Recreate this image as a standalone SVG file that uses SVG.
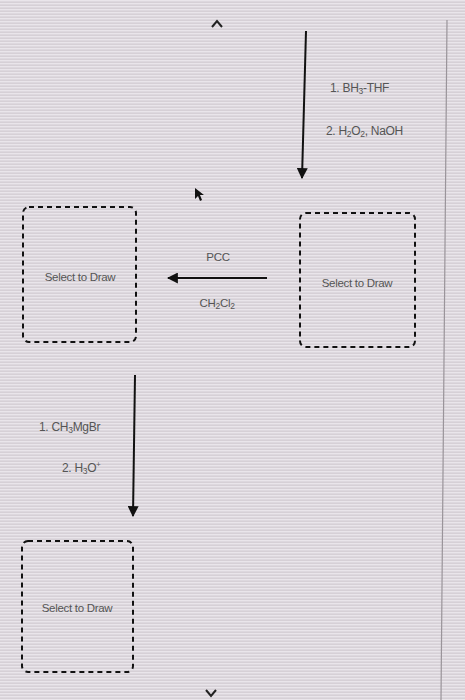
<svg xmlns="http://www.w3.org/2000/svg" width="465" height="700" viewBox="0 0 465 700">
<defs>
<pattern id="scan" width="4" height="3" patternUnits="userSpaceOnUse">
<rect width="4" height="3" fill="#d6d0d6"/>
<rect width="4" height="1.4" fill="#e9e5ea"/>
</pattern>
<marker id="ah" viewBox="0 0 10 10" refX="9" refY="5" markerWidth="5.5" markerHeight="5.5" orient="auto" markerUnits="strokeWidth">
<path d="M0,0 L10,5 L0,10 z" fill="#111"/>
</marker>
<style>
.box{fill:none;stroke:#111;stroke-width:2;stroke-dasharray:5 4}
.lbl{font-family:"Liberation Sans",Arial,sans-serif;font-size:11.5px;fill:#555;text-anchor:middle;letter-spacing:-0.3px}
.rg{font-family:"Liberation Sans",Arial,sans-serif;font-size:12px;fill:#555;letter-spacing:-0.3px}
.arr{stroke:#111;stroke-width:2;fill:none;marker-end:url(#ah)}
.caret{stroke:#222;stroke-width:2;fill:none}
</style>
</defs>
<rect width="465" height="700" fill="url(#scan)"/>
<line x1="447" y1="20" x2="441" y2="700" stroke="#9a949a" stroke-width="1.2"/>
<path class="caret" d="M212,27 L217,21 L222,27"/>
<path class="caret" d="M206,690 L211,696 L216,690"/>
<path d="M195,188 L195,199 L198,196 L200,201 L202,200 L200,195 L204,195 z" fill="#111"/>
<g id="connectors">
<line class="arr" x1="306" y1="31" x2="302" y2="178"/>
<line class="arr" x1="267" y1="278" x2="168" y2="278"/>
<line class="arr" x1="135" y1="375" x2="133" y2="516"/>
</g>
<g id="reagents1">
<text class="rg" x="330" y="92">1. BH<tspan font-size="8.5" dy="2">3</tspan><tspan dy="-2">-THF</tspan></text>
<text class="rg" x="326" y="135">2. H<tspan font-size="8.5" dy="2">2</tspan><tspan dy="-2">O</tspan><tspan font-size="8.5" dy="2">2</tspan><tspan dy="-2">, NaOH</tspan></text>
</g>
<g id="reagents2">
<text class="lbl" x="218" y="261">PCC</text>
<text class="lbl" x="217" y="307">CH<tspan font-size="8.5" dy="2">2</tspan><tspan dy="-2">Cl</tspan><tspan font-size="8.5" dy="2">2</tspan></text>
</g>
<g id="reagents3">
<text class="rg" x="39" y="431">1. CH<tspan font-size="8.5" dy="2">3</tspan><tspan dy="-2">MgBr</tspan></text>
<text class="rg" x="62" y="472">2. H<tspan font-size="8.5" dy="2">3</tspan><tspan dy="-2">O</tspan><tspan font-size="7.5" dy="-5">+</tspan></text>
</g>
<g id="box-right">
<rect class="box" x="300" y="213" width="115" height="134" rx="6"/>
<text class="lbl" x="357" y="287">Select to Draw</text>
</g>
<g id="box-left">
<rect class="box" x="23" y="207" width="113" height="135" rx="6"/>
<text class="lbl" x="80" y="281">Select to Draw</text>
</g>
<g id="box-bottom">
<rect class="box" x="22" y="541" width="111" height="131" rx="6"/>
<text class="lbl" x="77" y="612">Select to Draw</text>
</g>
</svg>
